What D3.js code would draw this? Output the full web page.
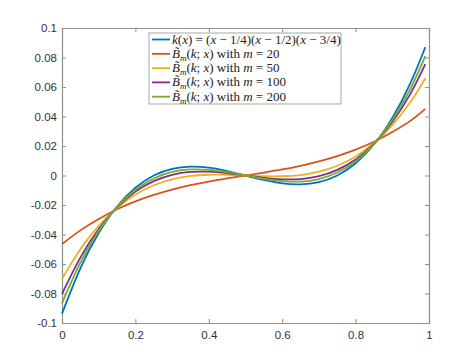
<!DOCTYPE html>
<html>
<head>
<meta charset="utf-8">
<script src="https://cdn.jsdelivr.net/npm/d3@7"></script>
<style>
  body { margin: 0; background: #fff; }
  svg { display: block; }
  .tick text { font-family: "Liberation Sans", Arial, sans-serif; font-size: 11.5px; fill: #333; }
  .legend text { font-family: "Liberation Serif", "DejaVu Serif", serif; font-size: 13px; fill: #222; }
</style>
</head>
<body>
<svg id="chart" width="474" height="364"></svg>
<script>
// sample positions along x (curves stop at 0.99)
const xs = [0, 0.05, 0.1, 0.15, 0.2, 0.25, 0.3, 0.35, 0.4, 0.45, 0.5,
            0.55, 0.6, 0.65, 0.7, 0.75, 0.8, 0.85, 0.9, 0.95, 0.99];

// values
const kVals = [-0.0937, -0.063, -0.039, -0.021, -0.0083, 0, 0.0045, 0.006, 0.0053, 0.003, 0,
               -0.003, -0.0053, -0.006, -0.0045, 0, 0.0083, 0.021, 0.039, 0.063, 0.087];
const m20 = [-0.0465, -0.0372, -0.0295, -0.0229, -0.0176, -0.0132, -0.0096, -0.0066, -0.0041, -0.002, 0,
             0.002, 0.0041, 0.0066, 0.0096, 0.0132, 0.0176, 0.0229, 0.0295, 0.0372, 0.0452];
const m50 = [-0.070, -0.050, -0.0342, -0.022, -0.0129, -0.0066, -0.0026, -0.0003, 0.0005, 0.0005, 0,
             -0.0005, -0.0005, 0.0003, 0.0026, 0.0066, 0.0129, 0.022, 0.0342, 0.050, 0.066];
const m100 = [-0.0803, -0.0557, -0.0363, -0.0216, -0.0109, -0.0038, 0.0005, 0.0024, 0.0026, 0.0016, 0,
              -0.0016, -0.0026, -0.0024, -0.0005, 0.0038, 0.0109, 0.0216, 0.0363, 0.0557, 0.0755];
const m200 = [-0.0866, -0.0591, -0.0376, -0.0213, -0.0097, -0.002, 0.0024, 0.0041, 0.0038, 0.0023, 0,
              -0.0023, -0.0038, -0.0041, -0.0024, 0.002, 0.0097, 0.0213, 0.0376, 0.0591, 0.081];

const mLabels = ['20', '50', '100', '200'];
const xTicks = [0, 0.2, 0.4, 0.6, 0.8, 1];
const yTicks = [-0.1, -0.08, -0.06, -0.04, -0.02, 0, 0.02, 0.04, 0.06, 0.08, 0.1];
const colors = ['#0072BD', '#D95319', '#EDB120', '#7E2F8E', '#77AC30'];

const series = [kVals, m20, m50, m100, m200];

const svg = d3.select('#chart');
const margin = { top: 28, right: 45, bottom: 41, left: 62 };
const width = 474, height = 364;

const x = d3.scaleLinear().domain([0, 1]).range([margin.left, width - margin.right]);
const y = d3.scaleLinear().domain([-0.1, 0.1]).range([height - margin.bottom, margin.top]);

const axisColor = '#8f8f8f';
const fmt = d => String(+d.toFixed(2));

// box + ticks on all four sides, pointing inward
const axBottom = svg.append('g')
  .attr('transform', `translate(0,${y(-0.1)})`)
  .call(d3.axisBottom(x).tickValues(xTicks).tickFormat(fmt).tickSize(-4).tickPadding(8));
const axTop = svg.append('g')
  .attr('transform', `translate(0,${y(0.1)})`)
  .call(d3.axisTop(x).tickValues(xTicks).tickFormat('').tickSize(-4));
const axLeft = svg.append('g')
  .attr('transform', `translate(${x(0)},0)`)
  .call(d3.axisLeft(y).tickValues(yTicks).tickFormat(fmt).tickSize(-4).tickPadding(5));
const axRight = svg.append('g')
  .attr('transform', `translate(${x(1)},0)`)
  .call(d3.axisRight(y).tickValues(yTicks).tickFormat('').tickSize(-4));

[axBottom, axTop, axLeft, axRight].forEach(a => {
  a.select('.domain').attr('stroke', axisColor).attr('stroke-width', 1.2);
  a.selectAll('.tick line').attr('stroke', axisColor);
});

// curves
const line = d3.line()
  .x((d, i) => x(xs[i]))
  .y(d => y(d))
  .curve(d3.curveNatural);

svg.append('g')
  .selectAll('path')
  .data(series)
  .join('path')
  .attr('fill', 'none')
  .attr('stroke', (d, i) => colors[i])
  .attr('stroke-width', 1.8)
  .attr('d', line);

// legend
const lg = svg.append('g').attr('class', 'legend');
const lx = 149, ly = 33, lw = 192, lh = 71, rowH = 14.3;
lg.append('rect')
  .attr('x', lx).attr('y', ly).attr('width', lw).attr('height', lh)
  .attr('fill', '#fff').attr('stroke', '#a8a8a8').attr('stroke-width', 1);

for (let i = 0; i < 5; i++) {
  const cy = ly + 6.5 + i * rowH;
  lg.append('line')
    .attr('x1', lx + 3).attr('x2', lx + 21)
    .attr('y1', cy).attr('y2', cy)
    .attr('stroke', colors[i]).attr('stroke-width', 1.8);
  const t = lg.append('text').attr('x', lx + 23).attr('y', cy + 4);
  if (i === 0) {
    const parts = [['k', 1], ['(', 0], ['x', 1], [') = (', 0], ['x', 1], [' − 1/4)(', 0],
                   ['x', 1], [' − 1/2)(', 0], ['x', 1], [' − 3/4)', 0]];
    parts.forEach(([s, it]) => t.append('tspan').attr('font-style', it ? 'italic' : null).text(s));
  } else {
    t.append('tspan').attr('font-style', 'italic').text('B\u0303');
    t.append('tspan').attr('font-style', 'italic').attr('font-size', '9px').attr('dy', 3).text('m');
    t.append('tspan').attr('dy', -3).text('(');
    t.append('tspan').attr('font-style', 'italic').text('k');
    t.append('tspan').text('; ');
    t.append('tspan').attr('font-style', 'italic').text('x');
    t.append('tspan').text(') with ');
    t.append('tspan').attr('font-style', 'italic').text('m');
    t.append('tspan').text(' = ' + mLabels[i - 1]);
  }
}
</script>
</body>
</html>
